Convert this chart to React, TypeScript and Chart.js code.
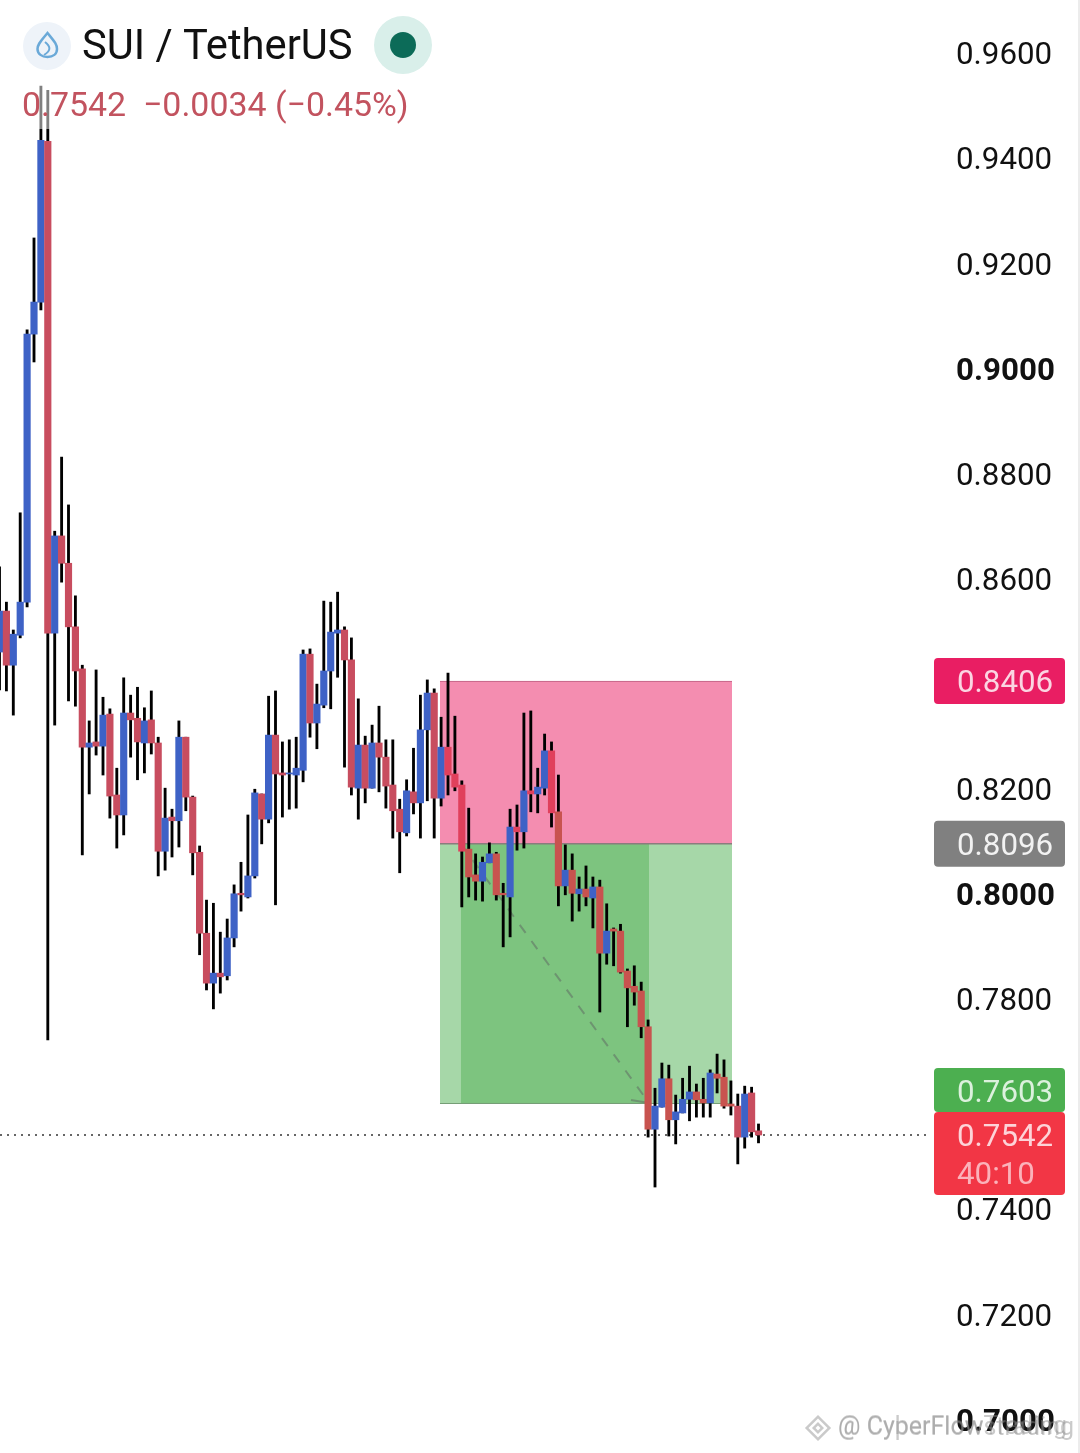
import React, { useEffect, useRef } from "react";
import { Chart, registerables } from "chart.js";

Chart.register(...registerables);

const opens = [0.8461,0.8539,0.8436,0.8493,0.8556,0.9066,0.9127,0.9433,0.8497,0.8682,0.8630,0.8509,0.8429,0.8280,0.8290,0.8282,0.8343,0.8189,0.8151,0.8345,0.8335,0.8288,0.8332,0.8288,0.8082,0.8147,0.8140,0.8299,0.8185,0.8080,0.7926,0.7831,0.7850,0.7845,0.7917,0.8002,0.7995,0.8035,0.8191,0.8143,0.8303,0.8231,0.8229,0.8227,0.8236,0.8457,0.8326,0.8360,0.8425,0.8497,0.8503,0.8446,0.8202,0.8284,0.8202,0.8288,0.8261,0.8208,0.8162,0.8117,0.8195,0.8174,0.8313,0.8383,0.8183,0.8280,0.8229,0.8208,0.8086,0.8037,0.8025,0.8060,0.8077,0.8002,0.7995,0.8128,0.8119,0.8197,0.8191,0.8202,0.8273,0.8157,0.8016,0.8046,0.8001,0.8010,0.7993,0.8014,0.7888,0.7934,0.7930,0.7854,0.7825,0.7816,0.7748,0.7553,0.7595,0.7649,0.7571,0.7584,0.7610,0.7624,0.7610,0.7603,0.7658,0.7652,0.7601,0.7597,0.7538,0.7622,0.7550];
const highs = [0.8623,0.8556,0.8503,0.8726,0.9074,0.9249,0.9538,0.9530,0.8691,0.8832,0.8741,0.8568,0.8436,0.8330,0.8427,0.8375,0.8353,0.8240,0.8412,0.8379,0.8394,0.8355,0.8387,0.8299,0.8202,0.8162,0.8330,0.8299,0.8187,0.8092,0.7989,0.7983,0.7928,0.7953,0.8018,0.8061,0.8151,0.8200,0.8191,0.8377,0.8387,0.8290,0.8294,0.8299,0.8465,0.8467,0.8400,0.8558,0.8556,0.8575,0.8509,0.8488,0.8372,0.8301,0.8322,0.8358,0.8294,0.8294,0.8181,0.8218,0.8278,0.8379,0.8408,0.8391,0.8337,0.8421,0.8339,0.8216,0.8164,0.8077,0.8071,0.8098,0.8080,0.8021,0.8162,0.8170,0.8345,0.8349,0.8240,0.8305,0.8290,0.8227,0.8094,0.8077,0.8033,0.8054,0.8033,0.8027,0.7982,0.7936,0.7943,0.7858,0.7864,0.7833,0.7761,0.7631,0.7679,0.7675,0.7618,0.7650,0.7673,0.7639,0.7650,0.7666,0.7696,0.7685,0.7645,0.7620,0.7635,0.7633,0.7563];
const lows = [0.8389,0.8387,0.8341,0.8488,0.8547,0.9013,0.9112,0.7723,0.8322,0.8594,0.8368,0.8358,0.8075,0.8191,0.8265,0.8227,0.8145,0.8088,0.8113,0.8261,0.8218,0.8231,0.8267,0.8035,0.8046,0.8071,0.8090,0.8159,0.8037,0.7885,0.7818,0.7782,0.7812,0.7837,0.7900,0.7968,0.7993,0.8031,0.8096,0.8136,0.7980,0.8147,0.8162,0.8164,0.8214,0.8299,0.8277,0.8355,0.8353,0.8413,0.8242,0.8189,0.8143,0.8174,0.8202,0.8195,0.8164,0.8107,0.8041,0.8111,0.8153,0.8107,0.8178,0.8107,0.8168,0.8189,0.8197,0.7976,0.7995,0.7989,0.7987,0.8060,0.7989,0.7900,0.7919,0.8084,0.8088,0.8157,0.8155,0.8189,0.8128,0.7978,0.7999,0.7949,0.7968,0.7978,0.7936,0.7776,0.7867,0.7864,0.7850,0.7748,0.7789,0.7727,0.7538,0.7443,0.7595,0.7540,0.7525,0.7584,0.7569,0.7576,0.7576,0.7576,0.7622,0.7593,0.7580,0.7487,0.7517,0.7538,0.7527];
const closes = [0.8539,0.8436,0.8495,0.8556,0.9066,0.9127,0.9435,0.8497,0.8682,0.8630,0.8509,0.8425,0.8280,0.8288,0.8282,0.8341,0.8187,0.8151,0.8345,0.8332,0.8290,0.8330,0.8288,0.8082,0.8145,0.8140,0.8299,0.8185,0.8079,0.7926,0.7831,0.7850,0.7843,0.7917,0.8001,0.7999,0.8035,0.8193,0.8143,0.8303,0.8229,0.8227,0.8231,0.8240,0.8457,0.8326,0.8362,0.8425,0.8499,0.8503,0.8446,0.8204,0.8284,0.8202,0.8288,0.8261,0.8206,0.8159,0.8119,0.8197,0.8174,0.8313,0.8383,0.8183,0.8280,0.8227,0.8204,0.8082,0.8033,0.8025,0.8061,0.8077,0.7999,0.7999,0.8128,0.8119,0.8197,0.8191,0.8204,0.8273,0.8155,0.8016,0.8046,0.8002,0.8010,0.7995,0.8014,0.7888,0.7930,0.7930,0.7852,0.7822,0.7814,0.7748,0.7553,0.7597,0.7649,0.7571,0.7586,0.7610,0.7624,0.7609,0.7603,0.7660,0.7650,0.7597,0.7597,0.7538,0.7620,0.7548,0.7542];

const priceTicks = [0.96,0.94,0.92,0.90,0.88,0.86,0.84,0.82,0.80,0.78,0.76,0.74,0.72,0.70];
const boldTicks = [0.90,0.80,0.70];

const stopPrice = 0.8406;
const entryPrice = 0.8096;
const targetPrice = 0.7603;
const lastPrice = 0.7542;
const countdown = "40:10";
const toolStart = 63.84;
const toolEnd = 106.16;
const fillStart = 66.88;
const fillEnd = 94.13;

const titleText = "SUI / TetherUS";
const quoteText = "0.7542  \u22120.0034 (\u22120.45%)";
const watermarkA = "@ CyberFlowTrading";
const watermarkB = "@ CyperFlowstrading";

const FONT = "Roboto, sans-serif";

const bodyColor = (i: number) => {
  const up = closes[i] >= opens[i];
  if (up) return "#3e62c6";
  const inTool = i >= 64 && i <= 106;
  const mid = (opens[i] + closes[i]) / 2;
  if (inTool && mid > entryPrice && mid < stopPrice) return "#e0405c";
  if (inTool && mid <= entryPrice && mid > targetPrice - 0.001) return "#c8534f";
  return "#c84d5f";
};

const overlayPlugin = {
  id: "overlay",
  beforeDatasetsDraw(chart: any) {
    const { ctx, scales, chartArea } = chart;
    const X = scales.x;
    const Y = scales.y;
    const x0 = X.getPixelForValue(toolStart);
    const x1 = X.getPixelForValue(toolEnd);
    const f0 = X.getPixelForValue(fillStart);
    const f1 = X.getPixelForValue(fillEnd);
    const yStop = Y.getPixelForValue(stopPrice);
    const yEntry = Y.getPixelForValue(entryPrice);
    const yTarget = Y.getPixelForValue(targetPrice);
    ctx.save();
    ctx.fillStyle = "#f48db0";
    ctx.fillRect(x0, yStop, x1 - x0, yEntry - yStop);
    ctx.fillStyle = "#a6d7a8";
    ctx.fillRect(x0, yEntry, x1 - x0, yTarget - yEntry);
    ctx.fillStyle = "#7dc47f";
    ctx.fillRect(f0, yEntry, f1 - f0, yTarget - yEntry);
    ctx.lineWidth = 1;
    ctx.strokeStyle = "#c9698c";
    ctx.beginPath();
    ctx.moveTo(x0, yStop + 0.5);
    ctx.lineTo(x1, yStop + 0.5);
    ctx.stroke();
    ctx.strokeStyle = "#8a7d7d";
    ctx.lineWidth = 1.5;
    ctx.beginPath();
    ctx.moveTo(x0, yEntry);
    ctx.lineTo(x1, yEntry);
    ctx.stroke();
    ctx.strokeStyle = "#6f9a70";
    ctx.lineWidth = 1;
    ctx.beginPath();
    ctx.moveTo(x0, yTarget + 0.5);
    ctx.lineTo(x1, yTarget + 0.5);
    ctx.stroke();
    // path from entry to target
    ctx.strokeStyle = "#6d9470";
    ctx.lineWidth = 2;
    ctx.setLineDash([10, 10]);
    ctx.beginPath();
    ctx.moveTo(f0, yEntry);
    ctx.lineTo(f1, yTarget);
    ctx.stroke();
    ctx.setLineDash([]);
    ctx.beginPath();
    ctx.moveTo(f1 - 18, yTarget - 3);
    ctx.lineTo(f1, yTarget);
    ctx.stroke();
    // last price dotted line
    const yLast = Y.getPixelForValue(lastPrice);
    ctx.strokeStyle = "#666666";
    ctx.lineWidth = 2;
    ctx.setLineDash([2, 5]);
    ctx.beginPath();
    ctx.moveTo(0, yLast);
    ctx.lineTo(chartArea.right, yLast);
    ctx.stroke();
    ctx.restore();
  },
  afterDraw(chart: any) {
    const { ctx, scales, width, height } = chart;
    const Y = scales.y;
    ctx.save();
    ctx.textBaseline = "middle";
    ctx.textAlign = "left";

    // right edge line
    ctx.fillStyle = "#ececec";
    ctx.fillRect(width - 2, 0, 2, height);

    // price tags
    const tag = (top: number, bottom: number, color: string) => {
      ctx.fillStyle = color;
      ctx.beginPath();
      ctx.roundRect(934, top, 131, bottom - top, 4);
      ctx.fill();
    };
    const font = `31.3px ${FONT}`;
    const yS = Y.getPixelForValue(stopPrice);
    const yE = Y.getPixelForValue(entryPrice);
    const yT = Y.getPixelForValue(targetPrice);
    const yL = Y.getPixelForValue(lastPrice);
    tag(yS - 23, yS + 23, "#e91e63");
    tag(yE - 23, yE + 23, "#808080");
    tag(yT - 35, yT + 9, "#4caf50");
    tag(yL - 23, yL + 60, "#f23645");
    ctx.font = font;
    ctx.fillStyle = "#fbd5e2";
    ctx.fillText(stopPrice.toFixed(4), 957, yS + 3);
    ctx.fillStyle = "#f2f2f2";
    ctx.fillText(entryPrice.toFixed(4), 957, yE + 3);
    ctx.fillStyle = "#dcf1dd";
    ctx.fillText(targetPrice.toFixed(4), 957, yT - 9);
    ctx.fillStyle = "#fdd3d8";
    ctx.fillText(lastPrice.toFixed(4), 957, yL + 3);
    ctx.fillStyle = "#fbb2ba";
    ctx.fillText(countdown, 957, yL + 41);

    // header veil over the tall wicks
    ctx.fillStyle = "rgba(255,255,255,0.5)";
    ctx.fillRect(20, 84, 392, 45);

    // header icon
    ctx.fillStyle = "#eef3f9";
    ctx.beginPath();
    ctx.arc(47, 46, 24, 0, Math.PI * 2);
    ctx.fill();
    ctx.strokeStyle = "#6aa9d8";
    ctx.lineWidth = 2.5;
    ctx.beginPath();
    ctx.moveTo(47.5, 33);
    ctx.bezierCurveTo(41, 41, 37.5, 44, 37.5, 49);
    ctx.bezierCurveTo(37.5, 54, 42, 57, 47.5, 57);
    ctx.bezierCurveTo(53, 57, 57, 54, 57, 49);
    ctx.bezierCurveTo(57, 44, 54, 41, 47.5, 33);
    ctx.closePath();
    ctx.stroke();
    ctx.lineWidth = 2;
    ctx.beginPath();
    ctx.moveTo(45, 42);
    ctx.bezierCurveTo(50, 46, 52, 50, 44, 55);
    ctx.stroke();

    // title
    ctx.fillStyle = "#111111";
    ctx.font = `41.7px ${FONT}`;
    ctx.fillText(titleText, 82, 49);

    // status
    ctx.fillStyle = "#d9efea";
    ctx.beginPath();
    ctx.arc(403, 45, 29, 0, Math.PI * 2);
    ctx.fill();
    ctx.fillStyle = "#0c6b58";
    ctx.beginPath();
    ctx.arc(403, 45, 13, 0, Math.PI * 2);
    ctx.fill();

    // quote
    ctx.fillStyle = "#c2535f";
    ctx.font = `33.9px ${FONT}`;
    ctx.fillText(quoteText, 22, 108);

    // watermark
    ctx.globalAlpha = 0.45;
    ctx.fillStyle = "#8a8a8a";
    ctx.font = `25px ${FONT}`;
    ctx.fillText(watermarkA, 838, 1428);
    ctx.fillText(watermarkB, 838, 1429);
    ctx.strokeStyle = "#8a8a8a";
    ctx.lineWidth = 2.5;
    ctx.translate(818, 1428);
    ctx.rotate(Math.PI / 4);
    ctx.strokeRect(-8, -8, 16, 16);
    ctx.strokeRect(-3, -3, 6, 6);
    ctx.restore();
  },
};

export default function App() {
  const ref = useRef<HTMLCanvasElement>(null);
  useEffect(() => {
    if (!ref.current) return;
    const idx = opens.map((_, i) => i);
    const chart = new Chart(ref.current, {
      type: "bar",
      data: {
        datasets: [
          {
            label: "Body",
            order: 1,
            data: idx.map((i) => {
              const a = Math.min(opens[i], closes[i]);
              const b = Math.max(opens[i], closes[i]);
              return { x: i, y: [a, b] };
            }) as any,
            backgroundColor: (c: any) => bodyColor(c.dataIndex),
            barThickness: 6.5,
            grouped: false,
          } as any,
          {
            label: "Wick",
            order: 2,
            data: idx.map((i) => ({ x: i, y: [lows[i], highs[i]] })) as any,
            backgroundColor: "#000000",
            barThickness: 2.2,
            grouped: false,
          } as any,
        ],
      },
      plugins: [overlayPlugin as any],
      options: {
        animation: false,
        responsive: false,
        devicePixelRatio: 1,
        layout: { padding: 0 },
        plugins: { legend: { display: false }, tooltip: { enabled: false } },
        scales: {
          x: {
            type: "linear",
            display: false,
            offset: false,
            min: 0.072,
            max: 134.855,
          },
          y: {
            type: "linear",
            position: "right",
            min: 0.69369,
            max: 0.97018,
            grid: { display: false },
            border: { display: false },
            afterBuildTicks: (s: any) => {
              s.ticks = priceTicks.map((value) => ({ value }));
            },
            afterFit: (s: any) => {
              s.width = 150;
              s.paddingTop = 0;
              s.paddingBottom = 0;
            },
            ticks: {
              autoSkip: false,
              padding: 18,
              labelOffset: 3,
              crossAlign: "near",
              color: "#111111",
              callback: (v: any) => Number(v).toFixed(4),
              font: (c: any) => ({
                family: FONT,
                size: 31.3,
                weight: boldTicks.some((b) => Math.abs(b - c.tick?.value) < 1e-6) ? "bold" : "normal",
              }),
            },
          },
        },
      } as any,
    });
    return () => chart.destroy();
  }, []);
  return (
    <div style={{ position: "fixed", left: 0, top: 0, width: 1080, height: 1453, background: "#ffffff" }}>
      <canvas ref={ref} width={1080} height={1453} style={{ display: "block" }} />
    </div>
  );
}
